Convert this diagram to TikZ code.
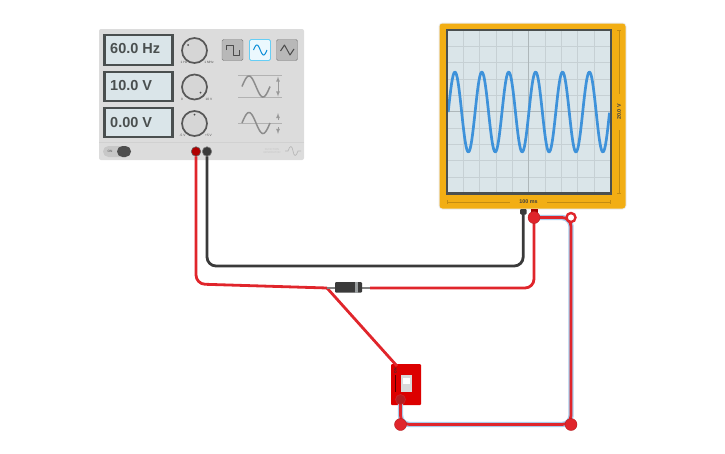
\documentclass[tikz,border=0pt]{standalone}
\usepackage{fontspec}
\setmainfont{Liberation Sans}
\definecolor{panelgray}{HTML}{DCDCDC}
\definecolor{lcdblue}{HTML}{DAE5E9}
\definecolor{lcdedge}{HTML}{4A4F4F}
\definecolor{knobgray}{HTML}{D6D6D6}
\definecolor{scopeorange}{HTML}{F2AE14}
\definecolor{tickorange}{HTML}{C48C10}
\definecolor{tracblue}{HTML}{3E92DA}
\definecolor{wirered}{HTML}{E0252B}
\definecolor{wireblack}{HTML}{3A3A3A}
\definecolor{haloblue}{HTML}{A8CCEC}
\definecolor{switchred}{HTML}{DC0000}
\definecolor{iconedge}{HTML}{7C7C7C}
\tikzset{
  lcd/.style = {draw=lcdedge, fill=lcdblue, line width=2.4, minimum width=68, minimum height=29.5,
                inner sep=0pt, outer sep=0pt},
  readout/.style = {font=\bfseries\fontsize{14.5}{16}\selectfont, text=lcdedge, inner sep=0pt},
  knob/.style = {circle, draw=wireblack!85!white, fill=knobgray, line width=1.7, minimum size=25,
                 inner sep=0pt, outer sep=0pt},
  tiny/.style = {font=\fontsize{3.2}{4}\selectfont, text=black!70!white, inner sep=0pt},
  modebtn/.style = {draw=iconedge, fill=black!28!white, rounded corners=1.5, minimum size=21,
                    inner sep=0pt, outer sep=0pt},
  icon/.style = {draw=black!70!white, line width=1, line join=round},
  wave/.style = {draw=black!45!white, line width=1.5},
  rule/.style = {draw=black!30!white, line width=1},
  wire/.style = {line width=2.8, rounded corners=9},
  halowire/.style = {draw=haloblue, line width=5.4, rounded corners=9},
  pin/.style = {circle, fill=wirered, draw=wirered!80!black, line width=0.4, minimum size=12,
                inner sep=0pt, outer sep=0pt},
  jack/.style = {circle, minimum size=9.5, inner sep=0pt, outer sep=0pt, line width=0.6}
}
\begin{document}
\begin{tikzpicture}[x=1pt,y=-1pt]
	\def \gridstep{16.35}
	\def \period{26.9}
	\useasboundingbox (0,0) rectangle (725,453);

	% Function generator
	\fill[panelgray, rounded corners=2] (99,29) rectangle (304,160);
	\draw[black!5!panelgray, line width=0.8] (99,142) -- (304,142);
	\node[lcd] (freqlcd) at (138.5,50) {};
	\node[lcd] (amplcd) at (138.5,86.5) {};
	\node[lcd] (offslcd) at (138.5,122.5) {};
	\node[readout, anchor=west] at (110,49) {60.0 Hz};
	\node[readout, anchor=west] at (110,86) {10.0 V};
	\node[readout, anchor=west] at (110,123) {0.00 V};

	% Knobs
	\node[knob] (freqknob) at (194.5,50.5) {};
	\node[knob] (ampknob) at (194.5,87) {};
	\node[knob] (offsknob) at (194.5,123.5) {};
	\fill[black!70!white] (188,45) circle (1);
	\fill[black!70!white] (200.5,92.5) circle (1);
	\fill[black!70!white] (194.5,114.5) circle (1);
	\node[tiny] at (184,62.5) {1 Hz};
	\node[tiny] at (209,62.5) {1 MHz};
	\node[tiny] at (182,99) {0};
	\node[tiny] at (209,99) {10 V};
	\node[tiny] at (182.5,135) {-5 V};
	\node[tiny] at (208.5,135) {+5 V};

	% Wave buttons
	\node[modebtn] (squarebtn) at (232.5,50) {};
	\node[modebtn, draw=cyan!60!white, fill=white!92!cyan, line width=0.9] (sinebtn) at (260,50) {};
	\node[modebtn] (trianbtn) at (287,50) {};
	\draw[icon] (226,50) -- (226,45) -- (233,45) -- (233,55) -- (239,55) -- (239,50);
	\draw[draw=cyan!75!blue, line width=1] plot[domain=0:1, samples=30] ({253.5+13.5*\x},{50-5*sin(360*\x)});
	\draw[icon] (280.5,51) -- (284.5,45) -- (290,55) -- (294,49);

	% Amplitude and offset icons
	\draw[rule] (238,75.5) -- (282,75.5);
	\draw[rule] (238,97.5) -- (282,97.5);
	\draw[wave] plot[domain=0:1, samples=40] ({242+28*\x},{86.5-10.5*sin(360*\x)});
	\draw[black!40!white, line width=0.8, <->, >=latex] (278,76.5) -- (278,96.5);
	\draw[rule] (238,123) -- (282,123);
	\draw[wave] plot[domain=0:1, samples=40] ({242+28*\x},{123-10.5*sin(360*\x)});
	\draw[black!40!white, line width=0.8, ->, >=latex] (278,120) -- (278,113);
	\draw[black!40!white, line width=0.8, ->, >=latex] (278,127) -- (278,134);

	% On switch
	\fill[black!22!white, rounded corners=5.5] (103,146) rectangle (131,157);
	\fill[wireblack!90!white, rounded corners=5.5] (117,146) rectangle (131,157);
	\node[tiny] at (110,151.5) {ON};
	\node[font=\fontsize{2.8}{3.2}\selectfont, text=black!22!white, align=center, inner sep=0pt] at (272,151) {FUNCTION\\GENERATOR};
	\draw[black!28!white, line width=0.7] (285,151) -- (288,151) .. controls (290,145) and (292,145) .. (293,151) .. controls (294,157) and (296,157) .. (298,151) -- (301,151);

	% Oscilloscope
	\fill[black!8!white, rounded corners=4] (438.5,22.5) rectangle (626.5,209.5);
	\fill[scopeorange, rounded corners=3] (439.5,23.5) rectangle (625.5,208.5);
	\fill[lcdblue] (447,30) rectangle (611,193.5);
	\foreach \i in {1,...,9} {
		\draw[black!9!lcdblue, line width=0.9] (447+\i*\gridstep,30) -- (447+\i*\gridstep,193.5);
		\draw[black!9!lcdblue, line width=0.9] (447,30+\i*\gridstep) -- (611,30+\i*\gridstep);
	}
	\draw[black!20!lcdblue, line width=1] (528.75,30) -- (528.75,193.5);
	\draw[black!20!lcdblue, line width=1] (447,111.75) -- (611,111.75);
	\draw[tracblue, line width=2.7, line join=round] plot[domain=0:6, samples=200] ({448.2+\period*\x},{112-40*sin(360*\x)});
	\draw[lcdedge, line width=2.2] (447,30) rectangle (611,193.5);

	% Scope scale
	\draw[tickorange, line width=0.6] (447,200) -- (447,204) (447,202) -- (510,202);
	\draw[tickorange, line width=0.6] (547,202) -- (610,202) (610,200) -- (610,204);
	\node[tiny, font=\bfseries\fontsize{5.4}{6}\selectfont, text=black!75!white] at (528.5,202) {100 ms};
	\draw[tickorange, line width=0.6] (617,30.5) -- (621,30.5) (619,30.5) -- (619,94);
	\draw[tickorange, line width=0.6] (619,130) -- (619,193.5) (617,193.5) -- (621,193.5);
	\node[tiny, font=\bfseries\fontsize{5.4}{6}\selectfont, text=black!75!white, rotate=90] at (619,112) {20.0 V};

	% Terminals
	\node[jack, fill=switchred!80!black, draw=black!60!white] (genplus) at (196,151.5) {};
	\node[jack, fill=wireblack, draw=black!50!white] (genminus) at (207,151.5) {};
	\fill[wireblack, rounded corners=1] (520,209) rectangle (526.5,214.5);
	\fill[switchred!75!black] (530.5,209) rectangle (537.5,214);
	\coordinate (scopeminus) at (523.2,214);
	\coordinate (scopeplus) at (534,217);

	% Diode
	\draw[black!50!white, line width=1.8] (327,288) -- (370,288);
	\fill[wireblack, rounded corners=1] (335,282) rectangle (362,292.5);
	\fill[black!50!lcdblue!70!white] (355,282) rectangle (358,292.5);
	\coordinate (anode) at (327,288);
	\coordinate (cathode) at (370,288);

	% Slide switch
	\fill[switchred, rounded corners=1] (391,364) rectangle (421,405);
	\fill[white!85!black] (401,375) rectangle (411.5,392);
	\fill[white] (402.5,378) rectangle (410,384);
	\draw[black!60!switchred, line width=0.5] (395.5,375) -- (395.5,392);
	\node[font=\bfseries\fontsize{3.4}{4}\selectfont, text=black!80!white, rotate=90, inner sep=0pt] at (395.5,371) {ON};
	\coordinate (switchtop) at (397,366);
	\coordinate (switchpin) at (400.5,399.5);

	% Loop wires
	\draw[halowire] (534,217.5) -- (571,217.5) -- (571,424.5) -- (400.5,424.5) -- (switchpin);
	\draw[wire, draw=wirered] (534,217.5) -- (571,217.5) -- (571,424.5) -- (400.5,424.5) -- (switchpin);

	% Wires
	\draw[wire, draw=wireblack] (genminus) -- (207,266) -- (523.2,266) -- (scopeminus);
	\draw[wire, draw=wirered] (genplus) -- (196,284) -- (anode);
	\draw[wire, draw=wirered] (anode) -- (switchtop);
	\draw[wire, draw=wirered] (cathode) -- (534,288) -- (scopeplus);
	\draw[black!50!white, line width=1.8] (327,288) -- (335,288);

	% Pins
	\node[pin] (scopepin) at (534,217.5) {};
	\node[pin, fill=white, draw=wirered, line width=2.4, minimum size=9] (ringpin) at (571,217.5) {};
	\node[pin] (cornerpin) at (571,424.5) {};
	\node[pin] (switchbase) at (400.5,424.5) {};
	\node[circle, fill=wirered!80!black, draw=wirered!90!black, line width=0.8, minimum size=10, inner sep=0pt] (switchdot) at (switchpin) {};
\end{tikzpicture}
\end{document}
